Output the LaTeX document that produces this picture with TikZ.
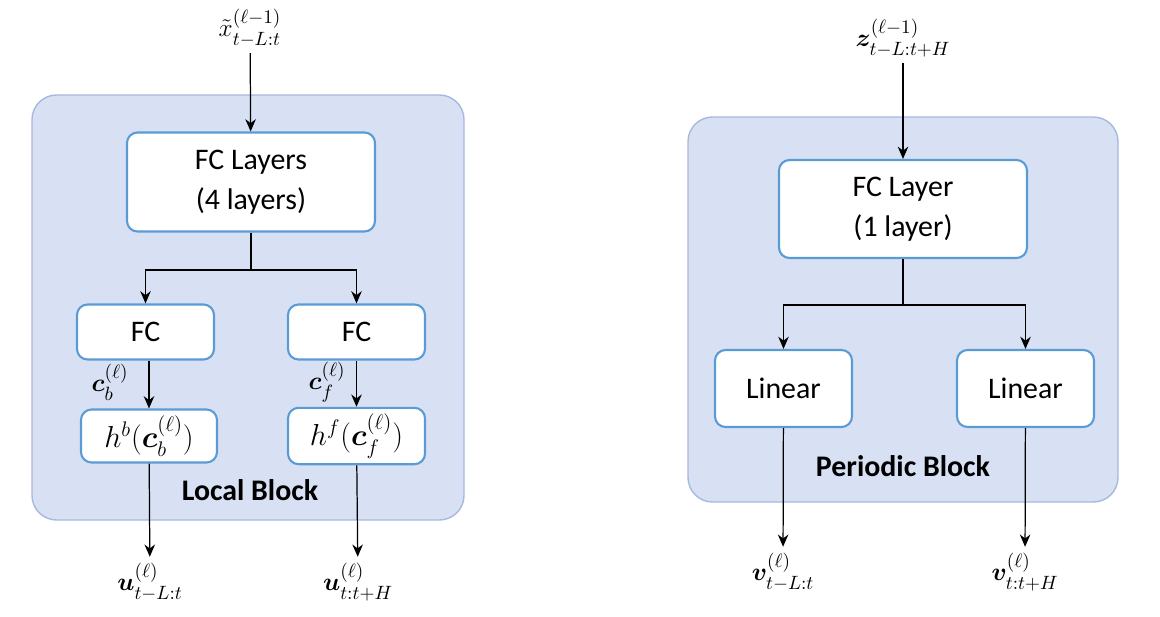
\documentclass[tikz,border=0pt]{standalone}
\usepackage{fontspec}
\usepackage{amsmath,bm}
\setmainfont{Carlito}
\usetikzlibrary{arrows.meta}
\definecolor{panel}{HTML}{D7E1F3}
\definecolor{panelline}{HTML}{A7B9DD}
\definecolor{boxline}{HTML}{5B9BD5}
\tikzset{
  panel/.style={draw=panelline, fill=panel, rounded corners=14pt, line width=0.8pt},
  box/.style={draw=boxline, fill=white, rounded corners=6pt, line width=1.2pt, align=center, font=\fontsize{17}{23}\selectfont},
  arr/.style={-{Stealth[length=7pt,width=6pt]}, line width=0.7pt},
  lbl/.style={font=\fontsize{15}{17}\selectfont},
  ttl/.style={font=\fontsize{17}{20}\selectfont\bfseries}
}
\begin{document}
\begin{tikzpicture}[x=0.02cm,y=-0.02cm]
\useasboundingbox (0,0) rectangle (1160,616);
% Local block
\draw[panel] (32,95) rectangle (464,520);
\node[box, minimum width=248*0.02cm, minimum height=99*0.02cm] (fcl) at (251,182) {FC Layers\\(4 layers)};
\node[box, minimum width=137*0.02cm, minimum height=55*0.02cm] (fcb) at (145.5,332) {FC};
\node[box, minimum width=137*0.02cm, minimum height=55*0.02cm] (fcf) at (356.5,332) {FC};
\node[box, minimum width=136*0.02cm, minimum height=53*0.02cm] (hb) at (149,436) {$h^b(\bm{c}_b^{(\ell)})$};
\node[box, minimum width=137*0.02cm, minimum height=53*0.02cm] (hf) at (356.5,436) {$h^f(\bm{c}_f^{(\ell)})$};
\node[ttl] (lt) at (250,490) {Local Block};
\node[lbl] (xin) at (250,28) {$\tilde{x}^{(\ell-1)}_{t-L:t}$};
\node[lbl] (cb) at (110,382) {$\bm{c}_b^{(\ell)}$};
\node[lbl] (cf) at (327,382) {$\bm{c}_f^{(\ell)}$};
\node[lbl] (ub) at (150,582) {$\bm{u}^{(\ell)}_{t-L:t}$};
\node[lbl] (uf) at (358,582) {$\bm{u}^{(\ell)}_{t:t+H}$};
\coordinate (lj) at (251,270);
\draw[arr] (xin) -- (fcl);
\draw[line width=0.7pt] (fcl) -- (lj);
\draw[arr] (lj) -| (fcb);
\draw[arr] (lj) -| (fcf);
\draw[arr] (fcb.south -| hb) -- (hb);
\draw[arr] (fcf) -- (hf);
\draw[arr] (hb) -- (ub);
\draw[arr] (hf) -- (uf);
% Periodic block
\draw[panel] (688,117) rectangle (1118,502);
\node[box, minimum width=248*0.02cm, minimum height=98*0.02cm] (fcp) at (903,209) {FC Layer\\(1 layer)};
\node[box, minimum width=137*0.02cm, minimum height=77*0.02cm] (lb) at (783.5,388.5) {Linear};
\node[box, minimum width=137*0.02cm, minimum height=77*0.02cm] (lf) at (1025.5,388.5) {Linear};
\node[ttl] (pt) at (903,466) {Periodic Block};
\node[lbl] (zin) at (903,38) {$\bm{z}^{(\ell-1)}_{t-L:t+H}$};
\node[lbl] (vb) at (783,572) {$\bm{v}^{(\ell)}_{t-L:t}$};
\node[lbl] (vf) at (1025,572) {$\bm{v}^{(\ell)}_{t:t+H}$};
\coordinate (pj) at (903,305);
\draw[arr] (zin) -- (fcp);
\draw[line width=0.7pt] (fcp) -- (pj);
\draw[arr] (pj) -| (lb);
\draw[arr] (pj) -| (lf);
\draw[arr] (lb) -- (vb);
\draw[arr] (lf) -- (vf);
\end{tikzpicture}
\end{document}
